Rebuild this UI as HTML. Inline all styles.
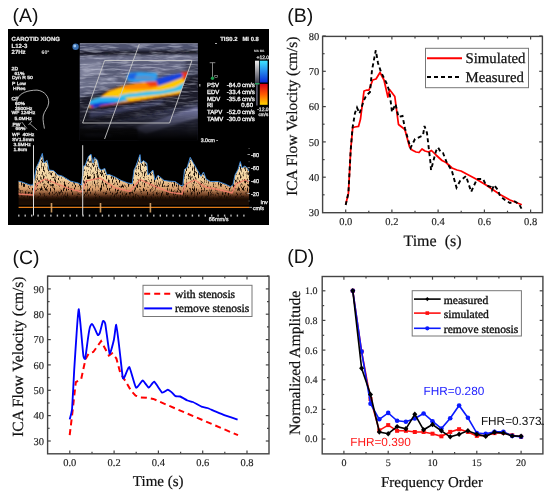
<!DOCTYPE html>
<html><head><meta charset="utf-8"><style>
html,body{margin:0;padding:0;background:#fff;width:550px;height:495px;overflow:hidden}
svg{display:block;will-change:transform;text-rendering:geometricPrecision}
</style></head><body>
<svg width="550" height="495" viewBox="0 0 550 495">
<rect width="550" height="495" fill="#fff"/>
<defs><linearGradient id="specg" gradientUnits="userSpaceOnUse" x1="0" y1="150" x2="0" y2="206"><stop offset="0" stop-color="#faeac6"/><stop offset="0.5" stop-color="#f4d4a0"/><stop offset="0.7" stop-color="#d89c6a"/><stop offset="0.8" stop-color="#8a5030" stop-opacity="0.75"/><stop offset="0.87" stop-color="#3a1a08" stop-opacity="0.25"/><stop offset="0.93" stop-color="#000" stop-opacity="0"/></linearGradient><linearGradient id="bluebar" x1="0" y1="0" x2="0" y2="1"><stop offset="0" stop-color="#3fe6ff"/><stop offset="1" stop-color="#0a2ad8"/></linearGradient><linearGradient id="redbar" x1="0" y1="0" x2="0" y2="1"><stop offset="0" stop-color="#d80018"/><stop offset="0.5" stop-color="#ff5a00"/><stop offset="1" stop-color="#ffd400"/></linearGradient><linearGradient id="graybar" x1="0" y1="0" x2="0" y2="1"><stop offset="0" stop-color="#f0f0f0"/><stop offset="1" stop-color="#303040"/></linearGradient><linearGradient id="bmodefade" x1="0" y1="0" x2="0" y2="1"><stop offset="0" stop-color="#000" stop-opacity="0"/><stop offset="0.7" stop-color="#000" stop-opacity="0"/><stop offset="0.86" stop-color="#000" stop-opacity="0.55"/><stop offset="1" stop-color="#000" stop-opacity="1"/></linearGradient><filter id="blur1" x="-10%" y="-10%" width="120%" height="120%"><feGaussianBlur stdDeviation="1.2"/></filter><filter id="blur07" x="-10%" y="-10%" width="120%" height="120%"><feGaussianBlur stdDeviation="0.95"/></filter><filter id="blur05" x="-10%" y="-10%" width="120%" height="120%"><feGaussianBlur stdDeviation="0.5"/></filter><filter id="blur2" x="-20%" y="-20%" width="140%" height="140%"><feGaussianBlur stdDeviation="2"/></filter><filter id="speck" x="0" y="0" width="100%" height="100%"><feTurbulence type="fractalNoise" baseFrequency="1.3 0.25" numOctaves="3" seed="11" result="n"/><feColorMatrix in="n" type="matrix" values="0 0 0 0 0  0 0 0 0 0  0 0 0 0 0  5 0 0 0 -1.45" result="m"/><feComposite in="SourceGraphic" in2="m" operator="in"/></filter><filter id="bmtex" x="0" y="0" width="100%" height="100%"><feTurbulence type="fractalNoise" baseFrequency="0.06 0.45" numOctaves="3" seed="5"/><feColorMatrix type="matrix" values="0 0 0 0 0.8  0 0 0 0 0.82  0 0 0 0 0.95  3.0 0 0 0 -1.3"/></filter><linearGradient id="bmaskg" x1="0" y1="0" x2="0" y2="1"><stop offset="0" stop-color="#fff"/><stop offset="0.5" stop-color="#fff"/><stop offset="0.68" stop-color="#888"/><stop offset="0.85" stop-color="#444"/><stop offset="1" stop-color="#000"/></linearGradient><mask id="bmask"><rect x="79.7" y="43.3" width="118.2" height="97" fill="url(#bmaskg)"/></mask><clipPath id="bclip"><rect x="79.7" y="43.3" width="118.2" height="97"/></clipPath><clipPath id="pclip"><polygon points="104.6,60.5 192,60.5 169.6,123 82.6,123"/></clipPath></defs>
<rect x="8" y="29" width="261" height="196" fill="#000"/>
<g clip-path="url(#bclip)">
<rect x="79.7" y="43.3" width="118.2" height="97" fill="#30324a"/>
<g filter="url(#blur1)">
<rect x="78" y="43" width="122" height="8" fill="#505370"/>
<polygon points="78,50.5 200,49.5 200,56 78,57" fill="#1a1c2c"/>
<polygon points="78,56 200,54.5 200,61 78,62.5" fill="#6a6d88"/>
<polygon points="78,62 200,60 200,76 160,80 120,86 78,98" fill="#585b76"/>
<polygon points="80,63 100,62 104,74 80,78" fill="#80839c"/>
<polygon points="80,80 116,76 118,84 80,90" fill="#6c6f8a"/>
<polygon points="120,64 180,62 182,70 120,72" fill="#606380"/>
<polygon points="186,60 200,60 200,100 184,100" fill="#3c3f56"/>
<polygon points="78,98 120,90 200,74 200,102 150,114 78,128" fill="#1a1c2c"/>
<polygon points="90,112 130,106 165,100 160,104 120,112 90,118" fill="#3c3f60"/>
<polygon points="134,128 198,106 200,117 146,134" fill="#6a6d94"/>
<rect x="78" y="128" width="60" height="16" fill="#12131c"/>
<ellipse cx="98" cy="136" rx="14" ry="2" fill="#34364c"/>
<ellipse cx="170" cy="134" rx="10" ry="2" fill="#34364c"/>
<ellipse cx="192" cy="131" rx="5" ry="6" fill="#3a3c55"/>
</g>
<rect x="79.7" y="43.3" width="118.2" height="97" fill="#fff" filter="url(#bmtex)" opacity="0.42" mask="url(#bmask)"/>
<rect x="79.7" y="43.3" width="118.2" height="97" fill="url(#bmodefade)"/>
<line x1="79.7" y1="43.6" x2="198" y2="43.6" stroke="#9a9cae" stroke-width="0.8"/>
</g>
<g clip-path="url(#pclip)" filter="url(#blur07)">
<polygon points="88,101 100,97 102,95.5 108.7,90.9 122.4,86.4 136,83.3 149,81.3 155,79.2 181,73 195,71 195,95 180,93.5 136,100.6 113.3,103.6 100,106 91,108.2 88,107" fill="#ffc800"/>
<polygon points="88,101 100,97 113,96.8 125,97.8 128,100.4 113.3,102.8 100,105 90,106.5" fill="#26aef2"/>
<polygon points="89,104.5 100,102.6 113.3,102.2 121,102.4 113.3,104 100,106.3 91,108.4" fill="#1436d2"/>
<polyline points="102,95.8 108.7,91.2 122.4,86.7 130,85" fill="none" stroke="#ff6a10" stroke-width="1"/>
<polygon points="124,86 136,83.3 150,82.6 159,86.5 150,89 136,89.5 124,89.5" fill="#ff8800"/>
<polygon points="145,82.2 155,79.2 158.4,86 150,86.5" fill="#f23c10"/>
<polygon points="120,95.2 128.7,93.6 136,93 146.2,91.5 161.5,90.4 174.7,87.4 182.8,83.3 192,79.5 192,88 175,91.8 161.5,94.3 146,95.8 136,96.8 120,98.3" fill="#38c4f2"/>
<polygon points="127,76 130,72.6 140,72 156.4,73.1 157.5,77 156,81.3 136,82.3 128,81" fill="#2aa0f2"/>
<polygon points="127.5,75.5 131,73.2 137,73 135,79 129,79.5" fill="#1e64e2"/>
<polygon points="134,76.5 146,75.8 157,77.5 150,79.2 136,79.2" fill="#7e88aa" opacity="0.65"/>
<polygon points="155.3,79.2 165,76.5 180.8,73.1 184,73.6 181.8,77.7 168.6,82.8 158.4,86" fill="#1442e0"/>
<polygon points="180.8,72.3 195,71 195,80 182,79.4 183.5,76" fill="#ea3018"/>
<polyline points="100,106.4 136,101 180,93.9" fill="none" stroke="#ff5a10" stroke-width="1"/>
<circle cx="91.5" cy="106.8" r="1.5" fill="#d82020"/>
</g>
<polygon points="104.6,60.5 192,60.5 169.6,123 82.6,123" fill="none" stroke="#c8c8c8" stroke-width="0.9"/>
<line x1="139.3" y1="44" x2="104.6" y2="139" stroke="#c8c8c8" stroke-width="0.9"/>
<circle cx="75.6" cy="46.7" r="3.2" fill="#3b6fb0"/><circle cx="74.8" cy="46" r="1.4" fill="#9ec6ee"/>
<text x="11.6" y="40.7" font-family='"Liberation Sans", sans-serif' font-size="6.0" font-weight="bold" fill="#ececec" stroke="#ececec" stroke-width="0.2" text-anchor="start" xml:space="preserve">CAROTID XIONG</text>
<text x="11.6" y="47.5" font-family='"Liberation Sans", sans-serif' font-size="6.0" font-weight="bold" fill="#ececec" stroke="#ececec" stroke-width="0.2" text-anchor="start" xml:space="preserve">L12-3</text>
<text x="11.6" y="53.7" font-family='"Liberation Sans", sans-serif' font-size="6.0" font-weight="bold" fill="#ececec" stroke="#ececec" stroke-width="0.2" text-anchor="start" xml:space="preserve">27Hz</text>
<text x="41.5" y="53.7" font-family='"Liberation Sans", sans-serif' font-size="5.2" font-weight="bold" fill="#e6e6e6" text-anchor="start" xml:space="preserve">60°</text>
<text transform="translate(11.6,69.5) scale(1.14,1)" font-family='"Liberation Sans", sans-serif' font-size="4.4" font-weight="normal" fill="#e8e8e8" stroke="#e8e8e8" stroke-width="0.3" text-anchor="start" xml:space="preserve">2D</text>
<text transform="translate(14.5,74.5) scale(1.14,1)" font-family='"Liberation Sans", sans-serif' font-size="4.4" font-weight="normal" fill="#e8e8e8" stroke="#e8e8e8" stroke-width="0.3" text-anchor="start" xml:space="preserve">61%</text>
<text transform="translate(12,79.3) scale(1.14,1)" font-family='"Liberation Sans", sans-serif' font-size="4.4" font-weight="normal" fill="#e8e8e8" stroke="#e8e8e8" stroke-width="0.3" text-anchor="start" xml:space="preserve">Dyn R 50</text>
<text transform="translate(12,85) scale(1.14,1)" font-family='"Liberation Sans", sans-serif' font-size="4.4" font-weight="normal" fill="#e8e8e8" stroke="#e8e8e8" stroke-width="0.3" text-anchor="start" xml:space="preserve">P Low</text>
<text transform="translate(13.1,89.6) scale(1.14,1)" font-family='"Liberation Sans", sans-serif' font-size="4.4" font-weight="normal" fill="#e8e8e8" stroke="#e8e8e8" stroke-width="0.3" text-anchor="start" xml:space="preserve">HRes</text>
<text transform="translate(11.6,99.5) scale(1.14,1)" font-family='"Liberation Sans", sans-serif' font-size="4.4" font-weight="normal" fill="#e8e8e8" stroke="#e8e8e8" stroke-width="0.3" text-anchor="start" xml:space="preserve">CF</text>
<text transform="translate(15,104.6) scale(1.14,1)" font-family='"Liberation Sans", sans-serif' font-size="4.4" font-weight="normal" fill="#e8e8e8" stroke="#e8e8e8" stroke-width="0.3" text-anchor="start" xml:space="preserve">60%</text>
<text transform="translate(15,109.7) scale(1.14,1)" font-family='"Liberation Sans", sans-serif' font-size="4.4" font-weight="normal" fill="#e8e8e8" stroke="#e8e8e8" stroke-width="0.3" text-anchor="start" xml:space="preserve">2500Hz</text>
<text transform="translate(11.6,114.2) scale(1.14,1)" font-family='"Liberation Sans", sans-serif' font-size="4.4" font-weight="normal" fill="#e8e8e8" stroke="#e8e8e8" stroke-width="0.3" text-anchor="start" xml:space="preserve">WF 124Hz</text>
<text transform="translate(14.5,119.9) scale(1.14,1)" font-family='"Liberation Sans", sans-serif' font-size="4.4" font-weight="normal" fill="#e8e8e8" stroke="#e8e8e8" stroke-width="0.3" text-anchor="start" xml:space="preserve">5.0MHz</text>
<text transform="translate(12.4,126.2) scale(1.14,1)" font-family='"Liberation Sans", sans-serif' font-size="4.4" font-weight="normal" fill="#e8e8e8" stroke="#e8e8e8" stroke-width="0.3" text-anchor="start" xml:space="preserve">PW</text>
<text transform="translate(15.5,130.2) scale(1.14,1)" font-family='"Liberation Sans", sans-serif' font-size="4.4" font-weight="normal" fill="#e8e8e8" stroke="#e8e8e8" stroke-width="0.3" text-anchor="start" xml:space="preserve">66%</text>
<text transform="translate(12,136) scale(1.14,1)" font-family='"Liberation Sans", sans-serif' font-size="4.4" font-weight="normal" fill="#e8e8e8" stroke="#e8e8e8" stroke-width="0.3" text-anchor="start" xml:space="preserve">WF  40Hz</text>
<text transform="translate(12,141.1) scale(1.14,1)" font-family='"Liberation Sans", sans-serif' font-size="4.4" font-weight="normal" fill="#e8e8e8" stroke="#e8e8e8" stroke-width="0.3" text-anchor="start" xml:space="preserve">SV1.5mm</text>
<text transform="translate(13.5,146.2) scale(1.14,1)" font-family='"Liberation Sans", sans-serif' font-size="4.4" font-weight="normal" fill="#e8e8e8" stroke="#e8e8e8" stroke-width="0.3" text-anchor="start" xml:space="preserve">3.5MHz</text>
<text transform="translate(13.5,151.3) scale(1.14,1)" font-family='"Liberation Sans", sans-serif' font-size="4.4" font-weight="normal" fill="#e8e8e8" stroke="#e8e8e8" stroke-width="0.3" text-anchor="start" xml:space="preserve">1.8cm</text>
<line x1="11.6" y1="70.3" x2="18" y2="70.3" stroke="#ccc" stroke-width="0.5"/>
<line x1="11.6" y1="100.3" x2="17.5" y2="100.3" stroke="#ccc" stroke-width="0.5"/>
<line x1="11.6" y1="126.3" x2="19" y2="126.3" stroke="#ccc" stroke-width="0.5"/>
<path d="M17.5,98.8 C20,93 27,90.3 37,90.1 C45,91 49,97 48.7,103 C48.3,108 44,111 43.2,116 C42.6,121 44,125 44.4,128.6" fill="none" stroke="#d8d8d8" stroke-width="0.8"/>
<path d="M17.5,98.8 C16,102 16.5,106 17,110 M21.8,122 L26.9,128.6 M29.8,123.5 L37.1,130.1 M28.5,125 L32,121" fill="none" stroke="#d8d8d8" stroke-width="0.7"/>
<text x="220.2" y="40.6" font-family='"Liberation Sans", sans-serif' font-size="5.9" font-weight="bold" fill="#ececec" stroke="#ececec" stroke-width="0.2" text-anchor="start" xml:space="preserve">TIS0.2   MI 0.8</text>
<rect x="215" y="43" width="2" height="0.8" fill="#ddd"/>
<text x="254" y="52.3" font-family='"Liberation Sans", sans-serif' font-size="3.2" font-weight="bold" fill="#e6e6e6" text-anchor="start" xml:space="preserve">MS MS</text>
<text x="256.5" y="58.8" font-family='"Liberation Sans", sans-serif' font-size="5.0" font-weight="normal" fill="#e6e6e6" stroke="#e6e6e6" stroke-width="0.25" text-anchor="start" xml:space="preserve">+12.0</text>
<rect x="255" y="60.7" width="4" height="23.5" fill="url(#graybar)"/>
<rect x="256.2" y="84" width="1.4" height="21.5" fill="#6a6a80"/>
<rect x="259.8" y="60.7" width="7.8" height="21.8" fill="url(#bluebar)"/>
<rect x="259.8" y="83.9" width="7.8" height="20.9" fill="url(#redbar)"/>
<rect x="255" y="83" width="4.5" height="1.5" fill="#2aa060"/>
<text x="257.2" y="110.6" font-family='"Liberation Sans", sans-serif' font-size="5.0" font-weight="normal" fill="#e6e6e6" stroke="#e6e6e6" stroke-width="0.25" text-anchor="start" xml:space="preserve">-12.0</text>
<text x="258.5" y="116.2" font-family='"Liberation Sans", sans-serif' font-size="4.6" font-weight="normal" fill="#e6e6e6" stroke="#e6e6e6" stroke-width="0.25" text-anchor="start" xml:space="preserve">cm/s</text>
<line x1="212.5" y1="62.7" x2="212.5" y2="77.7" stroke="#bbb" stroke-width="0.7"/>
<line x1="209.7" y1="62.7" x2="215.3" y2="62.7" stroke="#bbb" stroke-width="0.7"/>
<circle cx="212.5" cy="78.3" r="1.7" fill="#20a050"/>
<rect x="214.8" y="75.3" width="2.5" height="2" fill="none" stroke="#ccc" stroke-width="0.5"/>
<rect x="199" y="84" width="1.5" height="2.5" fill="#888"/>
<text x="207" y="86.6" font-family='"Liberation Sans", sans-serif' font-size="6.0" font-weight="normal" fill="#f0f0f0" stroke="#f0f0f0" stroke-width="0.35" text-anchor="start" xml:space="preserve">PSV</text>
<text x="240.5" y="86.6" font-family='"Liberation Sans", sans-serif' font-size="6.0" font-weight="normal" fill="#f0f0f0" stroke="#f0f0f0" stroke-width="0.35" text-anchor="end" xml:space="preserve">-84.0</text>
<text x="242.1" y="86.6" font-family='"Liberation Sans", sans-serif' font-size="6.0" font-weight="normal" fill="#f0f0f0" stroke="#f0f0f0" stroke-width="0.35" text-anchor="start" xml:space="preserve">cm/s</text>
<text x="207" y="93.55" font-family='"Liberation Sans", sans-serif' font-size="6.0" font-weight="normal" fill="#f0f0f0" stroke="#f0f0f0" stroke-width="0.35" text-anchor="start" xml:space="preserve">EDV</text>
<text x="240.5" y="93.55" font-family='"Liberation Sans", sans-serif' font-size="6.0" font-weight="normal" fill="#f0f0f0" stroke="#f0f0f0" stroke-width="0.35" text-anchor="end" xml:space="preserve">-33.4</text>
<text x="242.1" y="93.55" font-family='"Liberation Sans", sans-serif' font-size="6.0" font-weight="normal" fill="#f0f0f0" stroke="#f0f0f0" stroke-width="0.35" text-anchor="start" xml:space="preserve">cm/s</text>
<text x="207" y="100.5" font-family='"Liberation Sans", sans-serif' font-size="6.0" font-weight="normal" fill="#f0f0f0" stroke="#f0f0f0" stroke-width="0.35" text-anchor="start" xml:space="preserve">MDV</text>
<text x="240.5" y="100.5" font-family='"Liberation Sans", sans-serif' font-size="6.0" font-weight="normal" fill="#f0f0f0" stroke="#f0f0f0" stroke-width="0.35" text-anchor="end" xml:space="preserve">-35.6</text>
<text x="242.1" y="100.5" font-family='"Liberation Sans", sans-serif' font-size="6.0" font-weight="normal" fill="#f0f0f0" stroke="#f0f0f0" stroke-width="0.35" text-anchor="start" xml:space="preserve">cm/s</text>
<text x="207" y="107.44999999999999" font-family='"Liberation Sans", sans-serif' font-size="6.0" font-weight="normal" fill="#f0f0f0" stroke="#f0f0f0" stroke-width="0.35" text-anchor="start" xml:space="preserve">RI</text>
<text x="253" y="107.44999999999999" font-family='"Liberation Sans", sans-serif' font-size="6.0" font-weight="normal" fill="#f0f0f0" stroke="#f0f0f0" stroke-width="0.35" text-anchor="end" xml:space="preserve">0.60</text>
<text x="207" y="114.39999999999999" font-family='"Liberation Sans", sans-serif' font-size="6.0" font-weight="normal" fill="#f0f0f0" stroke="#f0f0f0" stroke-width="0.35" text-anchor="start" xml:space="preserve">TAPV</text>
<text x="240.5" y="114.39999999999999" font-family='"Liberation Sans", sans-serif' font-size="6.0" font-weight="normal" fill="#f0f0f0" stroke="#f0f0f0" stroke-width="0.35" text-anchor="end" xml:space="preserve">-52.0</text>
<text x="242.1" y="114.39999999999999" font-family='"Liberation Sans", sans-serif' font-size="6.0" font-weight="normal" fill="#f0f0f0" stroke="#f0f0f0" stroke-width="0.35" text-anchor="start" xml:space="preserve">cm/s</text>
<text x="207" y="121.35" font-family='"Liberation Sans", sans-serif' font-size="6.0" font-weight="normal" fill="#f0f0f0" stroke="#f0f0f0" stroke-width="0.35" text-anchor="start" xml:space="preserve">TAMV</text>
<text x="240.5" y="121.35" font-family='"Liberation Sans", sans-serif' font-size="6.0" font-weight="normal" fill="#f0f0f0" stroke="#f0f0f0" stroke-width="0.35" text-anchor="end" xml:space="preserve">-30.0</text>
<text x="242.1" y="121.35" font-family='"Liberation Sans", sans-serif' font-size="6.0" font-weight="normal" fill="#f0f0f0" stroke="#f0f0f0" stroke-width="0.35" text-anchor="start" xml:space="preserve">cm/s</text>
<text x="200.7" y="141.5" font-family='"Liberation Sans", sans-serif' font-size="5.2" font-weight="normal" fill="#e6e6e6" stroke="#e6e6e6" stroke-width="0.3" text-anchor="start" xml:space="preserve">3.0cm -</text>
<polygon points="18.6,181.2 22.0,182.0 26.0,183.5 30.0,185.0 33.0,185.0 36.3,167.5 39.0,162.0 42.3,153.4 44.0,163.0 47.1,160.3 49.0,170.0 53.5,170.6 58.0,175.0 62.1,176.0 70.7,181.2 78.0,183.0 81.5,185.0 83.5,166.0 85.0,165.8 88.5,156.3 91.0,154.1 93.0,163.0 94.5,157.2 97.5,160.3 99.0,168.0 101.3,170.0 104.8,168.4 107.0,175.0 109.0,174.4 115.0,177.0 121.1,180.4 128.0,183.0 132.2,183.8 134.0,170.0 135.7,166.6 140.0,154.6 141.0,163.0 143.4,160.6 146.9,163.2 148.0,175.0 152.9,170.0 155.0,180.0 158.0,175.2 164.0,180.4 169.2,181.2 175.0,181.5 180.2,185.2 182.8,185.8 184.5,169.4 187.1,167.6 190.2,157.3 193.1,162.5 197.5,170.2 200.9,176.3 203.5,172.0 206.1,178.9 210.4,181.5 218.2,181.5 225.1,184.0 230.3,186.6 232.9,184.9 235.0,175.0 238.0,169.4 240.3,161.6 242.0,168.0 245.0,165.9 247.5,168.5 249.0,171.1 249.0,205.0 18.6,205.0" fill="#1e0e04" opacity="0.9"/>
<polygon points="18.6,181.2 22.0,182.0 26.0,183.5 30.0,185.0 33.0,185.0 36.3,167.5 39.0,162.0 42.3,153.4 44.0,163.0 47.1,160.3 49.0,170.0 53.5,170.6 58.0,175.0 62.1,176.0 70.7,181.2 78.0,183.0 81.5,185.0 83.5,166.0 85.0,165.8 88.5,156.3 91.0,154.1 93.0,163.0 94.5,157.2 97.5,160.3 99.0,168.0 101.3,170.0 104.8,168.4 107.0,175.0 109.0,174.4 115.0,177.0 121.1,180.4 128.0,183.0 132.2,183.8 134.0,170.0 135.7,166.6 140.0,154.6 141.0,163.0 143.4,160.6 146.9,163.2 148.0,175.0 152.9,170.0 155.0,180.0 158.0,175.2 164.0,180.4 169.2,181.2 175.0,181.5 180.2,185.2 182.8,185.8 184.5,169.4 187.1,167.6 190.2,157.3 193.1,162.5 197.5,170.2 200.9,176.3 203.5,172.0 206.1,178.9 210.4,181.5 218.2,181.5 225.1,184.0 230.3,186.6 232.9,184.9 235.0,175.0 238.0,169.4 240.3,161.6 242.0,168.0 245.0,165.9 247.5,168.5 249.0,171.1 249.0,205.0 18.6,205.0" fill="url(#specg)" filter="url(#speck)"/>
<polyline points="18.6,181.2 22.0,182.0 26.0,183.5 30.0,185.0 33.0,185.0 36.3,167.5 39.0,162.0 42.3,153.4 44.0,163.0 47.1,160.3 49.0,170.0 53.5,170.6 58.0,175.0 62.1,176.0 70.7,181.2 78.0,183.0 81.5,185.0 83.5,166.0 85.0,165.8 88.5,156.3 91.0,154.1 93.0,163.0 94.5,157.2 97.5,160.3 99.0,168.0 101.3,170.0 104.8,168.4 107.0,175.0 109.0,174.4 115.0,177.0 121.1,180.4 128.0,183.0 132.2,183.8 134.0,170.0 135.7,166.6 140.0,154.6 141.0,163.0 143.4,160.6 146.9,163.2 148.0,175.0 152.9,170.0 155.0,180.0 158.0,175.2 164.0,180.4 169.2,181.2 175.0,181.5 180.2,185.2 182.8,185.8 184.5,169.4 187.1,167.6 190.2,157.3 193.1,162.5 197.5,170.2 200.9,176.3 203.5,172.0 206.1,178.9 210.4,181.5 218.2,181.5 225.1,184.0 230.3,186.6 232.9,184.9 235.0,175.0 238.0,169.4 240.3,161.6 242.0,168.0 245.0,165.9 247.5,168.5 249.0,171.1" fill="none" stroke="#3a8ae0" stroke-width="0.9" stroke-linejoin="round"/>
<polyline points="18.6,194.0 33.0,195.0 37.0,184.0 45.0,179.0 55.0,183.0 70.0,189.0 82.0,192.0 86.0,181.0 100.0,178.0 115.0,188.0 130.0,191.5 136.0,184.0 140.0,179.5 155.0,186.4 170.0,192.4 182.0,194.0 186.0,184.0 195.0,180.0 205.0,187.0 220.0,190.0 232.0,193.0 236.0,184.0 245.0,180.0 249.0,182.0" fill="none" stroke="#f4806c" stroke-width="1.3" opacity="0.9"/>
<line x1="18.6" y1="207.4" x2="249.3" y2="207.4" stroke="#e07a18" stroke-width="1.3"/>
<line x1="249.3" y1="207.4" x2="252" y2="207.4" stroke="#ccc" stroke-width="0.8"/>
<rect x="50.7" y="203" width="1.6" height="9.5" fill="#e8b070" opacity="0.85"/>
<rect x="99.7" y="203" width="1.6" height="9.5" fill="#e8b070" opacity="0.85"/>
<rect x="149.6" y="203" width="1.6" height="9.5" fill="#e8b070" opacity="0.85"/>
<rect x="33" y="145.2" width="1" height="70.3" fill="#dedede"/>
<rect x="82.2" y="145.2" width="1" height="70.3" fill="#dedede"/>
<rect x="18.1" y="214.6" width="1.4" height="2" fill="#b8b8b8"/>
<rect x="24.5" y="214.6" width="1.4" height="2" fill="#b8b8b8"/>
<rect x="31.0" y="214.6" width="1.4" height="2" fill="#b8b8b8"/>
<rect x="37.4" y="214.6" width="1.4" height="2" fill="#b8b8b8"/>
<rect x="43.8" y="214.6" width="1.4" height="2" fill="#b8b8b8"/>
<rect x="50.2" y="214.6" width="1.4" height="2" fill="#b8b8b8"/>
<rect x="56.7" y="214.6" width="1.4" height="2" fill="#b8b8b8"/>
<rect x="63.1" y="214.6" width="1.4" height="2" fill="#b8b8b8"/>
<rect x="69.5" y="214.6" width="1.4" height="2" fill="#b8b8b8"/>
<rect x="76.0" y="214.6" width="1.4" height="2" fill="#b8b8b8"/>
<rect x="82.4" y="214.6" width="1.4" height="2" fill="#b8b8b8"/>
<rect x="88.8" y="214.6" width="1.4" height="2" fill="#b8b8b8"/>
<rect x="95.3" y="214.6" width="1.4" height="2" fill="#b8b8b8"/>
<rect x="101.7" y="214.6" width="1.4" height="2" fill="#b8b8b8"/>
<rect x="108.1" y="214.6" width="1.4" height="2" fill="#b8b8b8"/>
<rect x="114.6" y="214.6" width="1.4" height="2" fill="#b8b8b8"/>
<rect x="121.0" y="214.6" width="1.4" height="2" fill="#b8b8b8"/>
<rect x="127.4" y="214.6" width="1.4" height="2" fill="#b8b8b8"/>
<rect x="133.8" y="214.6" width="1.4" height="2" fill="#b8b8b8"/>
<rect x="140.3" y="214.6" width="1.4" height="2" fill="#b8b8b8"/>
<rect x="146.7" y="214.6" width="1.4" height="2" fill="#b8b8b8"/>
<rect x="153.1" y="214.6" width="1.4" height="2" fill="#b8b8b8"/>
<rect x="159.6" y="214.6" width="1.4" height="2" fill="#b8b8b8"/>
<rect x="166.0" y="214.6" width="1.4" height="2" fill="#b8b8b8"/>
<rect x="172.4" y="214.6" width="1.4" height="2" fill="#b8b8b8"/>
<rect x="178.9" y="214.6" width="1.4" height="2" fill="#b8b8b8"/>
<rect x="185.3" y="214.6" width="1.4" height="2" fill="#b8b8b8"/>
<rect x="191.7" y="214.6" width="1.4" height="2" fill="#b8b8b8"/>
<rect x="198.1" y="214.6" width="1.4" height="2" fill="#b8b8b8"/>
<rect x="204.6" y="214.6" width="1.4" height="2" fill="#b8b8b8"/>
<rect x="211.0" y="214.6" width="1.4" height="2" fill="#b8b8b8"/>
<rect x="217.4" y="214.6" width="1.4" height="2" fill="#b8b8b8"/>
<rect x="223.9" y="214.6" width="1.4" height="2" fill="#b8b8b8"/>
<rect x="230.3" y="214.6" width="1.4" height="2" fill="#b8b8b8"/>
<rect x="236.7" y="214.6" width="1.4" height="2" fill="#b8b8b8"/>
<rect x="243.2" y="214.6" width="1.4" height="2" fill="#b8b8b8"/>
<text x="208.7" y="221.2" font-family='"Liberation Sans", sans-serif' font-size="5.6" font-weight="normal" fill="#e0e0e0" stroke="#e0e0e0" stroke-width="0.3" text-anchor="start" xml:space="preserve">66mm/s</text>
<rect x="247.5" y="154.2" width="2.5" height="0.8" fill="#bbb"/>
<text x="251" y="156.79999999999998" font-family='"Liberation Sans", sans-serif' font-size="5.6" font-weight="normal" fill="#e8e8e8" stroke="#e8e8e8" stroke-width="0.3" text-anchor="start" xml:space="preserve">-80</text>
<rect x="247.5" y="167.29999999999998" width="2.5" height="0.8" fill="#bbb"/>
<text x="251" y="169.89999999999998" font-family='"Liberation Sans", sans-serif' font-size="5.6" font-weight="normal" fill="#e8e8e8" stroke="#e8e8e8" stroke-width="0.3" text-anchor="start" xml:space="preserve">-60</text>
<rect x="247.5" y="180.29999999999998" width="2.5" height="0.8" fill="#bbb"/>
<text x="251" y="182.89999999999998" font-family='"Liberation Sans", sans-serif' font-size="5.6" font-weight="normal" fill="#e8e8e8" stroke="#e8e8e8" stroke-width="0.3" text-anchor="start" xml:space="preserve">-40</text>
<rect x="247.5" y="193.2" width="2.5" height="0.8" fill="#bbb"/>
<text x="251" y="195.79999999999998" font-family='"Liberation Sans", sans-serif' font-size="5.6" font-weight="normal" fill="#e8e8e8" stroke="#e8e8e8" stroke-width="0.3" text-anchor="start" xml:space="preserve">-20</text>
<rect x="248.5" y="148.29999999999998" width="1.2" height="0.6" fill="#999"/>
<rect x="248.5" y="161.5" width="1.2" height="0.6" fill="#999"/>
<rect x="248.5" y="174.7" width="1.2" height="0.6" fill="#999"/>
<rect x="248.5" y="187.7" width="1.2" height="0.6" fill="#999"/>
<rect x="248.5" y="200.7" width="1.2" height="0.6" fill="#999"/>
<text x="260.5" y="204.2" font-family='"Liberation Sans", sans-serif' font-size="5.4" font-weight="normal" fill="#e8e8e8" stroke="#e8e8e8" stroke-width="0.3" text-anchor="start" xml:space="preserve">Inv</text>
<text x="252.7" y="209.5" font-family='"Liberation Sans", sans-serif' font-size="5.4" font-weight="normal" fill="#e8e8e8" stroke="#e8e8e8" stroke-width="0.3" text-anchor="start" xml:space="preserve">cm/s</text>
<text x="12.5" y="21.6" font-family='"Liberation Sans", sans-serif' font-size="19.5" fill="#111">(A)</text>
<text x="287.2" y="21.6" font-family='"Liberation Sans", sans-serif' font-size="19.5" fill="#111">(B)</text>
<text x="12.5" y="263.5" font-family='"Liberation Sans", sans-serif' font-size="19.5" fill="#111">(C)</text>
<text x="287.2" y="263.2" font-family='"Liberation Sans", sans-serif' font-size="19.5" fill="#111">(D)</text>
<rect x="322.6" y="36.4" width="219.79999999999995" height="176.29999999999998" fill="none" stroke="#444" stroke-width="1.4"/>
<line x1="345.7" y1="212.7" x2="345.7" y2="209.5" stroke="#444" stroke-width="1.2"/>
<line x1="345.7" y1="36.4" x2="345.7" y2="39.6" stroke="#444" stroke-width="1.2"/>
<line x1="368.8" y1="212.7" x2="368.8" y2="210.7" stroke="#444" stroke-width="1.2"/>
<line x1="368.8" y1="36.4" x2="368.8" y2="38.4" stroke="#444" stroke-width="1.2"/>
<line x1="391.9" y1="212.7" x2="391.9" y2="209.5" stroke="#444" stroke-width="1.2"/>
<line x1="391.9" y1="36.4" x2="391.9" y2="39.6" stroke="#444" stroke-width="1.2"/>
<line x1="415.0" y1="212.7" x2="415.0" y2="210.7" stroke="#444" stroke-width="1.2"/>
<line x1="415.0" y1="36.4" x2="415.0" y2="38.4" stroke="#444" stroke-width="1.2"/>
<line x1="438.1" y1="212.7" x2="438.1" y2="209.5" stroke="#444" stroke-width="1.2"/>
<line x1="438.1" y1="36.4" x2="438.1" y2="39.6" stroke="#444" stroke-width="1.2"/>
<line x1="461.2" y1="212.7" x2="461.2" y2="210.7" stroke="#444" stroke-width="1.2"/>
<line x1="461.2" y1="36.4" x2="461.2" y2="38.4" stroke="#444" stroke-width="1.2"/>
<line x1="484.4" y1="212.7" x2="484.4" y2="209.5" stroke="#444" stroke-width="1.2"/>
<line x1="484.4" y1="36.4" x2="484.4" y2="39.6" stroke="#444" stroke-width="1.2"/>
<line x1="507.5" y1="212.7" x2="507.5" y2="210.7" stroke="#444" stroke-width="1.2"/>
<line x1="507.5" y1="36.4" x2="507.5" y2="38.4" stroke="#444" stroke-width="1.2"/>
<line x1="530.6" y1="212.7" x2="530.6" y2="209.5" stroke="#444" stroke-width="1.2"/>
<line x1="530.6" y1="36.4" x2="530.6" y2="39.6" stroke="#444" stroke-width="1.2"/>
<line x1="322.6" y1="194.8" x2="324.6" y2="194.8" stroke="#444" stroke-width="1.2"/>
<line x1="542.4" y1="194.8" x2="540.4" y2="194.8" stroke="#444" stroke-width="1.2"/>
<line x1="322.6" y1="177.2" x2="325.8" y2="177.2" stroke="#444" stroke-width="1.2"/>
<line x1="542.4" y1="177.2" x2="539.1999999999999" y2="177.2" stroke="#444" stroke-width="1.2"/>
<line x1="322.6" y1="159.6" x2="324.6" y2="159.6" stroke="#444" stroke-width="1.2"/>
<line x1="542.4" y1="159.6" x2="540.4" y2="159.6" stroke="#444" stroke-width="1.2"/>
<line x1="322.6" y1="141.9" x2="325.8" y2="141.9" stroke="#444" stroke-width="1.2"/>
<line x1="542.4" y1="141.9" x2="539.1999999999999" y2="141.9" stroke="#444" stroke-width="1.2"/>
<line x1="322.6" y1="124.2" x2="324.6" y2="124.2" stroke="#444" stroke-width="1.2"/>
<line x1="542.4" y1="124.2" x2="540.4" y2="124.2" stroke="#444" stroke-width="1.2"/>
<line x1="322.6" y1="106.6" x2="325.8" y2="106.6" stroke="#444" stroke-width="1.2"/>
<line x1="542.4" y1="106.6" x2="539.1999999999999" y2="106.6" stroke="#444" stroke-width="1.2"/>
<line x1="322.6" y1="89.0" x2="324.6" y2="89.0" stroke="#444" stroke-width="1.2"/>
<line x1="542.4" y1="89.0" x2="540.4" y2="89.0" stroke="#444" stroke-width="1.2"/>
<line x1="322.6" y1="71.3" x2="325.8" y2="71.3" stroke="#444" stroke-width="1.2"/>
<line x1="542.4" y1="71.3" x2="539.1999999999999" y2="71.3" stroke="#444" stroke-width="1.2"/>
<line x1="322.6" y1="53.7" x2="324.6" y2="53.7" stroke="#444" stroke-width="1.2"/>
<line x1="542.4" y1="53.7" x2="540.4" y2="53.7" stroke="#444" stroke-width="1.2"/>
<line x1="322.6" y1="36.0" x2="325.8" y2="36.0" stroke="#444" stroke-width="1.2"/>
<line x1="542.4" y1="36.0" x2="539.1999999999999" y2="36.0" stroke="#444" stroke-width="1.2"/>
<text x="345.7" y="225.0" font-family='"Liberation Serif", serif' font-size="10.5" fill="#222" stroke="#222" stroke-width="0.15" text-anchor="middle">0.0</text>
<text x="391.9" y="225.0" font-family='"Liberation Serif", serif' font-size="10.5" fill="#222" stroke="#222" stroke-width="0.15" text-anchor="middle">0.2</text>
<text x="438.1" y="225.0" font-family='"Liberation Serif", serif' font-size="10.5" fill="#222" stroke="#222" stroke-width="0.15" text-anchor="middle">0.4</text>
<text x="484.4" y="225.0" font-family='"Liberation Serif", serif' font-size="10.5" fill="#222" stroke="#222" stroke-width="0.15" text-anchor="middle">0.6</text>
<text x="530.6" y="225.0" font-family='"Liberation Serif", serif' font-size="10.5" fill="#222" stroke="#222" stroke-width="0.15" text-anchor="middle">0.8</text>
<text x="319.3" y="216.1" font-family='"Liberation Serif", serif' font-size="10.5" fill="#222" stroke="#222" stroke-width="0.15" text-anchor="end">30</text>
<text x="319.3" y="180.8" font-family='"Liberation Serif", serif' font-size="10.5" fill="#222" stroke="#222" stroke-width="0.15" text-anchor="end">40</text>
<text x="319.3" y="145.5" font-family='"Liberation Serif", serif' font-size="10.5" fill="#222" stroke="#222" stroke-width="0.15" text-anchor="end">50</text>
<text x="319.3" y="110.2" font-family='"Liberation Serif", serif' font-size="10.5" fill="#222" stroke="#222" stroke-width="0.15" text-anchor="end">60</text>
<text x="319.3" y="74.9" font-family='"Liberation Serif", serif' font-size="10.5" fill="#222" stroke="#222" stroke-width="0.15" text-anchor="end">70</text>
<text x="319.3" y="39.6" font-family='"Liberation Serif", serif' font-size="10.5" fill="#222" stroke="#222" stroke-width="0.15" text-anchor="end">80</text>
<text transform="translate(296.7,116.2) rotate(-90)" font-family='"Liberation Serif", serif' font-size="15.4" fill="#111" stroke="#111" stroke-width="0.2" text-anchor="middle">ICA Flow Velocity (cm/s)</text>
<text x="432.5" y="245.5" font-family='"Liberation Serif", serif' font-size="16" fill="#111" stroke="#111" stroke-width="0.2" text-anchor="middle" xml:space="preserve">Time  (s)</text>
<polyline points="345.7,204.4 348.4,193.5 350.7,150.0 352.7,127.6 355.0,127.0 358.5,126.4 360.5,119.0 364.0,91.0 367.0,90.0 369.0,90.0 372.7,80.0 376.0,79.0 380.0,72.5 384.0,80.0 387.9,97.0 389.7,89.7 394.8,96.5 398.5,124.5 403.0,128.0 405.0,130.0 409.5,146.7 412.0,150.0 416.0,152.0 419.0,152.5 422.0,149.0 425.0,151.0 428.5,152.0 431.5,150.5 436.0,155.0 442.0,160.5 446.0,162.5 452.0,168.0 457.0,170.0 461.0,171.0 476.0,179.0 486.0,185.0 500.0,194.5 510.0,200.0 521.8,204.8" fill="none" stroke="#ff0000" stroke-width="1.75" stroke-linejoin="round"/>
<polyline points="345.7,205.0 348.4,193.0 350.7,150.0 352.5,128.0 355.0,113.0 357.0,107.6 359.5,113.5 362.0,106.0 364.0,100.0 366.0,96.0 370.0,92.0 372.0,70.0 375.8,50.3 378.0,63.0 381.0,72.0 384.0,78.0 387.0,84.0 389.5,92.0 392.0,112.0 395.5,104.0 398.5,117.0 402.5,116.0 405.0,128.5 410.5,148.0 415.0,139.0 423.0,135.5 424.5,126.0 427.0,133.0 430.5,163.0 431.0,170.0 436.0,151.0 438.0,147.5 441.0,152.5 443.0,153.0 447.0,163.0 451.8,170.6 456.5,187.6 460.0,181.0 466.0,176.0 471.2,191.8 477.0,179.0 483.0,179.0 486.0,185.0 491.0,187.0 492.0,190.0 494.0,185.0 498.0,190.0 500.0,196.0 505.0,200.0 510.0,203.0 514.0,201.0 519.0,204.0 522.0,209.5" fill="none" stroke="#000" stroke-width="1.9" stroke-dasharray="4,3"/>
<rect x="425.5" y="48.3" width="103" height="39.4" fill="#fff" stroke="#777" stroke-width="1"/>
<line x1="427" y1="58.2" x2="462" y2="58.2" stroke="#ff0000" stroke-width="2"/>
<line x1="427" y1="77" x2="462" y2="77" stroke="#000" stroke-width="1.9" stroke-dasharray="4,3"/>
<text x="465.5" y="63.4" font-family='"Liberation Serif", serif' font-size="14.8" fill="#111" stroke="#111" stroke-width="0.25">Simulated</text>
<text x="465.5" y="82.3" font-family='"Liberation Serif", serif' font-size="14.8" fill="#111" stroke="#111" stroke-width="0.25">Measured</text>
<rect x="47.6" y="276.2" width="221.4" height="177.60000000000002" fill="none" stroke="#444" stroke-width="1.4"/>
<line x1="69.8" y1="453.8" x2="69.8" y2="450.6" stroke="#444" stroke-width="1.2"/>
<line x1="69.8" y1="276.2" x2="69.8" y2="279.4" stroke="#444" stroke-width="1.2"/>
<line x1="92.0" y1="453.8" x2="92.0" y2="451.8" stroke="#444" stroke-width="1.2"/>
<line x1="92.0" y1="276.2" x2="92.0" y2="278.2" stroke="#444" stroke-width="1.2"/>
<line x1="114.1" y1="453.8" x2="114.1" y2="450.6" stroke="#444" stroke-width="1.2"/>
<line x1="114.1" y1="276.2" x2="114.1" y2="279.4" stroke="#444" stroke-width="1.2"/>
<line x1="136.2" y1="453.8" x2="136.2" y2="451.8" stroke="#444" stroke-width="1.2"/>
<line x1="136.2" y1="276.2" x2="136.2" y2="278.2" stroke="#444" stroke-width="1.2"/>
<line x1="158.4" y1="453.8" x2="158.4" y2="450.6" stroke="#444" stroke-width="1.2"/>
<line x1="158.4" y1="276.2" x2="158.4" y2="279.4" stroke="#444" stroke-width="1.2"/>
<line x1="180.6" y1="453.8" x2="180.6" y2="451.8" stroke="#444" stroke-width="1.2"/>
<line x1="180.6" y1="276.2" x2="180.6" y2="278.2" stroke="#444" stroke-width="1.2"/>
<line x1="202.7" y1="453.8" x2="202.7" y2="450.6" stroke="#444" stroke-width="1.2"/>
<line x1="202.7" y1="276.2" x2="202.7" y2="279.4" stroke="#444" stroke-width="1.2"/>
<line x1="224.8" y1="453.8" x2="224.8" y2="451.8" stroke="#444" stroke-width="1.2"/>
<line x1="224.8" y1="276.2" x2="224.8" y2="278.2" stroke="#444" stroke-width="1.2"/>
<line x1="247.0" y1="453.8" x2="247.0" y2="450.6" stroke="#444" stroke-width="1.2"/>
<line x1="247.0" y1="276.2" x2="247.0" y2="279.4" stroke="#444" stroke-width="1.2"/>
<line x1="47.6" y1="441.0" x2="50.800000000000004" y2="441.0" stroke="#444" stroke-width="1.2"/>
<line x1="269" y1="441.0" x2="265.8" y2="441.0" stroke="#444" stroke-width="1.2"/>
<line x1="47.6" y1="428.3" x2="49.6" y2="428.3" stroke="#444" stroke-width="1.2"/>
<line x1="269" y1="428.3" x2="267.0" y2="428.3" stroke="#444" stroke-width="1.2"/>
<line x1="47.6" y1="415.6" x2="50.800000000000004" y2="415.6" stroke="#444" stroke-width="1.2"/>
<line x1="269" y1="415.6" x2="265.8" y2="415.6" stroke="#444" stroke-width="1.2"/>
<line x1="47.6" y1="403.0" x2="49.6" y2="403.0" stroke="#444" stroke-width="1.2"/>
<line x1="269" y1="403.0" x2="267.0" y2="403.0" stroke="#444" stroke-width="1.2"/>
<line x1="47.6" y1="390.3" x2="50.800000000000004" y2="390.3" stroke="#444" stroke-width="1.2"/>
<line x1="269" y1="390.3" x2="265.8" y2="390.3" stroke="#444" stroke-width="1.2"/>
<line x1="47.6" y1="377.6" x2="49.6" y2="377.6" stroke="#444" stroke-width="1.2"/>
<line x1="269" y1="377.6" x2="267.0" y2="377.6" stroke="#444" stroke-width="1.2"/>
<line x1="47.6" y1="364.9" x2="50.800000000000004" y2="364.9" stroke="#444" stroke-width="1.2"/>
<line x1="269" y1="364.9" x2="265.8" y2="364.9" stroke="#444" stroke-width="1.2"/>
<line x1="47.6" y1="352.3" x2="49.6" y2="352.3" stroke="#444" stroke-width="1.2"/>
<line x1="269" y1="352.3" x2="267.0" y2="352.3" stroke="#444" stroke-width="1.2"/>
<line x1="47.6" y1="339.6" x2="50.800000000000004" y2="339.6" stroke="#444" stroke-width="1.2"/>
<line x1="269" y1="339.6" x2="265.8" y2="339.6" stroke="#444" stroke-width="1.2"/>
<line x1="47.6" y1="326.9" x2="49.6" y2="326.9" stroke="#444" stroke-width="1.2"/>
<line x1="269" y1="326.9" x2="267.0" y2="326.9" stroke="#444" stroke-width="1.2"/>
<line x1="47.6" y1="314.2" x2="50.800000000000004" y2="314.2" stroke="#444" stroke-width="1.2"/>
<line x1="269" y1="314.2" x2="265.8" y2="314.2" stroke="#444" stroke-width="1.2"/>
<line x1="47.6" y1="301.6" x2="49.6" y2="301.6" stroke="#444" stroke-width="1.2"/>
<line x1="269" y1="301.6" x2="267.0" y2="301.6" stroke="#444" stroke-width="1.2"/>
<line x1="47.6" y1="288.9" x2="50.800000000000004" y2="288.9" stroke="#444" stroke-width="1.2"/>
<line x1="269" y1="288.9" x2="265.8" y2="288.9" stroke="#444" stroke-width="1.2"/>
<line x1="47.6" y1="276.2" x2="49.6" y2="276.2" stroke="#444" stroke-width="1.2"/>
<line x1="269" y1="276.2" x2="267.0" y2="276.2" stroke="#444" stroke-width="1.2"/>
<text x="69.8" y="465.7" font-family='"Liberation Serif", serif' font-size="10.5" fill="#222" stroke="#222" stroke-width="0.15" text-anchor="middle">0.0</text>
<text x="114.1" y="465.7" font-family='"Liberation Serif", serif' font-size="10.5" fill="#222" stroke="#222" stroke-width="0.15" text-anchor="middle">0.2</text>
<text x="158.4" y="465.7" font-family='"Liberation Serif", serif' font-size="10.5" fill="#222" stroke="#222" stroke-width="0.15" text-anchor="middle">0.4</text>
<text x="202.7" y="465.7" font-family='"Liberation Serif", serif' font-size="10.5" fill="#222" stroke="#222" stroke-width="0.15" text-anchor="middle">0.6</text>
<text x="247.0" y="465.7" font-family='"Liberation Serif", serif' font-size="10.5" fill="#222" stroke="#222" stroke-width="0.15" text-anchor="middle">0.8</text>
<text x="44.1" y="444.6" font-family='"Liberation Serif", serif' font-size="10.5" fill="#222" stroke="#222" stroke-width="0.15" text-anchor="end">30</text>
<text x="44.1" y="419.2" font-family='"Liberation Serif", serif' font-size="10.5" fill="#222" stroke="#222" stroke-width="0.15" text-anchor="end">40</text>
<text x="44.1" y="393.9" font-family='"Liberation Serif", serif' font-size="10.5" fill="#222" stroke="#222" stroke-width="0.15" text-anchor="end">50</text>
<text x="44.1" y="368.6" font-family='"Liberation Serif", serif' font-size="10.5" fill="#222" stroke="#222" stroke-width="0.15" text-anchor="end">60</text>
<text x="44.1" y="343.2" font-family='"Liberation Serif", serif' font-size="10.5" fill="#222" stroke="#222" stroke-width="0.15" text-anchor="end">70</text>
<text x="44.1" y="317.9" font-family='"Liberation Serif", serif' font-size="10.5" fill="#222" stroke="#222" stroke-width="0.15" text-anchor="end">80</text>
<text x="44.1" y="292.5" font-family='"Liberation Serif", serif' font-size="10.5" fill="#222" stroke="#222" stroke-width="0.15" text-anchor="end">90</text>
<text transform="translate(23.1,356.7) rotate(-90)" font-family='"Liberation Serif", serif' font-size="15.5" fill="#111" stroke="#111" stroke-width="0.2" text-anchor="middle">ICA Flow Velocity (cm/s)</text>
<text x="158.2" y="486" font-family='"Liberation Serif", serif' font-size="15" fill="#111" stroke="#111" stroke-width="0.2" text-anchor="middle">Time (s)</text>
<polyline points="69.7,435.2 72.7,410.0 75.8,382.1 81.2,379.1 83.0,370.6 85.6,358.9 88.9,353.3 93.3,352.0 101.1,341.1 108.9,355.6 112.2,353.3 116.4,358.5 120.3,373.0 123.3,377.8 126.0,382.0 131.2,391.0 135.6,395.6 140.3,397.4 146.7,397.8 153.3,398.9 170.0,406.2 238.0,435.2" fill="none" stroke="#ff0000" stroke-width="2" stroke-dasharray="6,4"/>
<path d="M69.7,419.4 C69.9,418.6 71.8,412.1 72.1,408.5 C72.4,404.9 73.9,375.4 74.2,370.0 C74.5,364.6 76.2,339.5 76.5,335.0 C76.8,330.5 78.4,309.6 78.7,309.2 C79.0,308.8 80.7,326.6 81.0,330.0 C81.3,333.4 83.1,353.8 83.4,355.9 C83.7,358.0 84.9,359.7 85.2,358.7 C85.5,357.7 87.2,344.3 87.5,342.0 C87.8,339.7 89.5,328.9 89.8,327.6 C90.1,326.3 91.5,323.7 91.9,323.8 C92.3,323.9 94.3,327.5 94.7,328.3 C95.1,329.1 97.4,334.7 97.8,335.1 C98.2,335.5 99.3,334.2 99.7,333.2 C100.1,332.2 102.5,321.9 102.9,321.2 C103.3,320.5 104.8,321.6 105.3,324.0 C105.8,326.4 109.0,352.5 109.6,353.7 C110.2,354.9 113.3,342.4 113.8,340.3 C114.3,338.2 115.8,324.5 116.2,324.8 C116.6,325.1 118.5,341.1 119.0,345.0 C119.5,348.9 122.3,375.1 122.7,377.4 C123.1,379.7 124.0,377.8 124.5,377.0 C125.0,376.2 128.6,366.3 129.4,367.1 C130.2,367.9 135.0,386.7 136.0,387.7 C137.0,388.7 141.8,380.5 142.7,380.5 C143.6,380.5 148.0,387.6 148.8,387.7 C149.6,387.8 153.2,381.3 154.2,381.7 C155.2,382.1 161.1,392.0 162.1,392.6 C163.1,393.2 167.2,389.7 167.9,389.7 C168.6,389.7 170.9,391.6 171.5,392.1 C172.1,392.6 174.9,395.9 175.5,396.2 C176.1,396.5 179.3,396.2 180.2,396.5 C181.1,396.8 186.5,400.1 187.4,400.5 C188.3,400.9 191.9,401.6 192.9,402.0 C193.9,402.4 200.3,406.2 201.4,406.6 C202.5,407.0 206.3,407.6 207.4,408.0 C208.5,408.4 214.6,411.2 215.9,411.7 C217.2,412.2 223.4,414.7 225.0,415.3 C226.6,415.9 236.7,419.4 237.6,419.7" fill="none" stroke="#0000ff" stroke-width="1.85" stroke-linejoin="round"/>
<rect x="143" y="285.3" width="109" height="31.2" fill="#fff" stroke="#777" stroke-width="1"/>
<line x1="144.2" y1="293.7" x2="172.1" y2="293.7" stroke="#ff0000" stroke-width="2" stroke-dasharray="6,4"/>
<line x1="144.2" y1="308.4" x2="172.1" y2="308.4" stroke="#0000ff" stroke-width="2"/>
<text x="174.9" y="297.6" font-family='"Liberation Serif", serif' font-size="11.6" fill="#111" stroke="#111" stroke-width="0.35">with stenosis</text>
<text x="174.9" y="312.3" font-family='"Liberation Serif", serif' font-size="11.6" fill="#111" stroke="#111" stroke-width="0.35">remove stenosis</text>
<rect x="322.2" y="276.5" width="220.7" height="177.39999999999998" fill="none" stroke="#444" stroke-width="1.4"/>
<line x1="343.9" y1="453.9" x2="343.9" y2="450.7" stroke="#444" stroke-width="1.2"/>
<line x1="343.9" y1="276.5" x2="343.9" y2="279.7" stroke="#444" stroke-width="1.2"/>
<line x1="366.0" y1="453.9" x2="366.0" y2="451.9" stroke="#444" stroke-width="1.2"/>
<line x1="366.0" y1="276.5" x2="366.0" y2="278.5" stroke="#444" stroke-width="1.2"/>
<line x1="388.2" y1="453.9" x2="388.2" y2="450.7" stroke="#444" stroke-width="1.2"/>
<line x1="388.2" y1="276.5" x2="388.2" y2="279.7" stroke="#444" stroke-width="1.2"/>
<line x1="410.3" y1="453.9" x2="410.3" y2="451.9" stroke="#444" stroke-width="1.2"/>
<line x1="410.3" y1="276.5" x2="410.3" y2="278.5" stroke="#444" stroke-width="1.2"/>
<line x1="432.5" y1="453.9" x2="432.5" y2="450.7" stroke="#444" stroke-width="1.2"/>
<line x1="432.5" y1="276.5" x2="432.5" y2="279.7" stroke="#444" stroke-width="1.2"/>
<line x1="454.6" y1="453.9" x2="454.6" y2="451.9" stroke="#444" stroke-width="1.2"/>
<line x1="454.6" y1="276.5" x2="454.6" y2="278.5" stroke="#444" stroke-width="1.2"/>
<line x1="476.8" y1="453.9" x2="476.8" y2="450.7" stroke="#444" stroke-width="1.2"/>
<line x1="476.8" y1="276.5" x2="476.8" y2="279.7" stroke="#444" stroke-width="1.2"/>
<line x1="498.9" y1="453.9" x2="498.9" y2="451.9" stroke="#444" stroke-width="1.2"/>
<line x1="498.9" y1="276.5" x2="498.9" y2="278.5" stroke="#444" stroke-width="1.2"/>
<line x1="521.1" y1="453.9" x2="521.1" y2="450.7" stroke="#444" stroke-width="1.2"/>
<line x1="521.1" y1="276.5" x2="521.1" y2="279.7" stroke="#444" stroke-width="1.2"/>
<line x1="322.2" y1="439.0" x2="325.4" y2="439.0" stroke="#444" stroke-width="1.2"/>
<line x1="542.9" y1="439.0" x2="539.6999999999999" y2="439.0" stroke="#444" stroke-width="1.2"/>
<line x1="322.2" y1="424.2" x2="324.2" y2="424.2" stroke="#444" stroke-width="1.2"/>
<line x1="542.9" y1="424.2" x2="540.9" y2="424.2" stroke="#444" stroke-width="1.2"/>
<line x1="322.2" y1="409.4" x2="325.4" y2="409.4" stroke="#444" stroke-width="1.2"/>
<line x1="542.9" y1="409.4" x2="539.6999999999999" y2="409.4" stroke="#444" stroke-width="1.2"/>
<line x1="322.2" y1="394.5" x2="324.2" y2="394.5" stroke="#444" stroke-width="1.2"/>
<line x1="542.9" y1="394.5" x2="540.9" y2="394.5" stroke="#444" stroke-width="1.2"/>
<line x1="322.2" y1="379.7" x2="325.4" y2="379.7" stroke="#444" stroke-width="1.2"/>
<line x1="542.9" y1="379.7" x2="539.6999999999999" y2="379.7" stroke="#444" stroke-width="1.2"/>
<line x1="322.2" y1="364.9" x2="324.2" y2="364.9" stroke="#444" stroke-width="1.2"/>
<line x1="542.9" y1="364.9" x2="540.9" y2="364.9" stroke="#444" stroke-width="1.2"/>
<line x1="322.2" y1="350.1" x2="325.4" y2="350.1" stroke="#444" stroke-width="1.2"/>
<line x1="542.9" y1="350.1" x2="539.6999999999999" y2="350.1" stroke="#444" stroke-width="1.2"/>
<line x1="322.2" y1="335.3" x2="324.2" y2="335.3" stroke="#444" stroke-width="1.2"/>
<line x1="542.9" y1="335.3" x2="540.9" y2="335.3" stroke="#444" stroke-width="1.2"/>
<line x1="322.2" y1="320.4" x2="325.4" y2="320.4" stroke="#444" stroke-width="1.2"/>
<line x1="542.9" y1="320.4" x2="539.6999999999999" y2="320.4" stroke="#444" stroke-width="1.2"/>
<line x1="322.2" y1="305.6" x2="324.2" y2="305.6" stroke="#444" stroke-width="1.2"/>
<line x1="542.9" y1="305.6" x2="540.9" y2="305.6" stroke="#444" stroke-width="1.2"/>
<line x1="322.2" y1="290.8" x2="325.4" y2="290.8" stroke="#444" stroke-width="1.2"/>
<line x1="542.9" y1="290.8" x2="539.6999999999999" y2="290.8" stroke="#444" stroke-width="1.2"/>
<text x="343.9" y="466.0" font-family='"Liberation Serif", serif' font-size="10" fill="#222" stroke="#222" stroke-width="0.15" text-anchor="middle">0</text>
<text x="388.2" y="466.0" font-family='"Liberation Serif", serif' font-size="10" fill="#222" stroke="#222" stroke-width="0.15" text-anchor="middle">5</text>
<text x="432.5" y="466.0" font-family='"Liberation Serif", serif' font-size="10" fill="#222" stroke="#222" stroke-width="0.15" text-anchor="middle">10</text>
<text x="476.8" y="466.0" font-family='"Liberation Serif", serif' font-size="10" fill="#222" stroke="#222" stroke-width="0.15" text-anchor="middle">15</text>
<text x="521.1" y="466.0" font-family='"Liberation Serif", serif' font-size="10" fill="#222" stroke="#222" stroke-width="0.15" text-anchor="middle">20</text>
<text x="317.5" y="442.4" font-family='"Liberation Serif", serif' font-size="10" fill="#222" stroke="#222" stroke-width="0.15" text-anchor="end">0.0</text>
<text x="317.5" y="412.8" font-family='"Liberation Serif", serif' font-size="10" fill="#222" stroke="#222" stroke-width="0.15" text-anchor="end">0.2</text>
<text x="317.5" y="383.1" font-family='"Liberation Serif", serif' font-size="10" fill="#222" stroke="#222" stroke-width="0.15" text-anchor="end">0.4</text>
<text x="317.5" y="353.5" font-family='"Liberation Serif", serif' font-size="10" fill="#222" stroke="#222" stroke-width="0.15" text-anchor="end">0.6</text>
<text x="317.5" y="323.8" font-family='"Liberation Serif", serif' font-size="10" fill="#222" stroke="#222" stroke-width="0.15" text-anchor="end">0.8</text>
<text x="317.5" y="294.2" font-family='"Liberation Serif", serif' font-size="10" fill="#222" stroke="#222" stroke-width="0.15" text-anchor="end">1.0</text>
<text transform="translate(300.1,362.9) rotate(-90)" font-family='"Liberation Serif", serif' font-size="15.7" fill="#111" stroke="#111" stroke-width="0.2" text-anchor="middle">Normalized Amplitude</text>
<text x="432" y="486.5" font-family='"Liberation Serif", serif' font-size="15" fill="#111" stroke="#111" stroke-width="0.2" text-anchor="middle">Frequency Order</text>
<polyline points="352.8,290.8 361.6,351.6 370.5,399.0 379.3,430.4 388.2,425.1 397.1,430.8 405.9,430.8 414.8,432.0 423.6,432.0 432.5,433.7 441.4,436.3 450.2,431.9 459.1,429.2 467.9,431.9 476.8,435.9 485.7,435.3 494.5,433.1 503.4,432.8 512.2,435.3 521.1,436.8" fill="none" stroke="#ff1010" stroke-width="1.6"/>
<rect x="350.8" y="288.8" width="4" height="4" fill="#ff1010"/>
<rect x="359.6" y="349.6" width="4" height="4" fill="#ff1010"/>
<rect x="368.5" y="397.0" width="4" height="4" fill="#ff1010"/>
<rect x="377.3" y="428.4" width="4" height="4" fill="#ff1010"/>
<rect x="386.2" y="423.1" width="4" height="4" fill="#ff1010"/>
<rect x="395.1" y="428.8" width="4" height="4" fill="#ff1010"/>
<rect x="403.9" y="428.8" width="4" height="4" fill="#ff1010"/>
<rect x="412.8" y="430.0" width="4" height="4" fill="#ff1010"/>
<rect x="421.6" y="430.0" width="4" height="4" fill="#ff1010"/>
<rect x="430.5" y="431.7" width="4" height="4" fill="#ff1010"/>
<rect x="439.4" y="434.3" width="4" height="4" fill="#ff1010"/>
<rect x="448.2" y="429.9" width="4" height="4" fill="#ff1010"/>
<rect x="457.1" y="427.2" width="4" height="4" fill="#ff1010"/>
<rect x="465.9" y="429.9" width="4" height="4" fill="#ff1010"/>
<rect x="474.8" y="433.9" width="4" height="4" fill="#ff1010"/>
<rect x="483.7" y="433.3" width="4" height="4" fill="#ff1010"/>
<rect x="492.5" y="431.1" width="4" height="4" fill="#ff1010"/>
<rect x="501.4" y="430.8" width="4" height="4" fill="#ff1010"/>
<rect x="510.2" y="433.3" width="4" height="4" fill="#ff1010"/>
<rect x="519.1" y="434.8" width="4" height="4" fill="#ff1010"/>
<polyline points="352.8,290.8 361.6,351.6 370.5,403.7 379.3,419.3 388.2,412.9 397.1,420.8 405.9,421.8 414.8,418.5 423.6,413.5 432.5,421.2 441.4,428.6 450.2,418.3 459.1,405.5 467.9,417.8 476.8,433.1 485.7,433.7 494.5,431.9 503.4,431.9 512.2,435.9 521.1,436.8" fill="none" stroke="#0a1aff" stroke-width="1.6"/>
<circle cx="352.8" cy="290.8" r="2.3" fill="#0a1aff"/>
<circle cx="361.6" cy="351.6" r="2.3" fill="#0a1aff"/>
<circle cx="370.5" cy="403.7" r="2.3" fill="#0a1aff"/>
<circle cx="379.3" cy="419.3" r="2.3" fill="#0a1aff"/>
<circle cx="388.2" cy="412.9" r="2.3" fill="#0a1aff"/>
<circle cx="397.1" cy="420.8" r="2.3" fill="#0a1aff"/>
<circle cx="405.9" cy="421.8" r="2.3" fill="#0a1aff"/>
<circle cx="414.8" cy="418.5" r="2.3" fill="#0a1aff"/>
<circle cx="423.6" cy="413.5" r="2.3" fill="#0a1aff"/>
<circle cx="432.5" cy="421.2" r="2.3" fill="#0a1aff"/>
<circle cx="441.4" cy="428.6" r="2.3" fill="#0a1aff"/>
<circle cx="450.2" cy="418.3" r="2.3" fill="#0a1aff"/>
<circle cx="459.1" cy="405.5" r="2.3" fill="#0a1aff"/>
<circle cx="467.9" cy="417.8" r="2.3" fill="#0a1aff"/>
<circle cx="476.8" cy="433.1" r="2.3" fill="#0a1aff"/>
<circle cx="485.7" cy="433.7" r="2.3" fill="#0a1aff"/>
<circle cx="494.5" cy="431.9" r="2.3" fill="#0a1aff"/>
<circle cx="503.4" cy="431.9" r="2.3" fill="#0a1aff"/>
<circle cx="512.2" cy="435.9" r="2.3" fill="#0a1aff"/>
<circle cx="521.1" cy="436.8" r="2.3" fill="#0a1aff"/>
<polyline points="352.8,290.8 361.6,368.3 370.5,394.5 379.3,432.0 388.2,433.7 397.1,426.6 405.9,428.8 414.8,414.3 423.6,429.8 432.5,424.5 441.4,430.8 450.2,436.8 459.1,434.3 467.9,430.8 476.8,434.3 485.7,436.3 494.5,432.3 503.4,433.1 512.2,435.9 521.1,436.3" fill="none" stroke="#000" stroke-width="1.6"/>
<path d="M352.8,288.1 L355.3,290.8 L352.8,293.5 L350.3,290.8Z" fill="#000"/>
<path d="M361.6,365.6 L364.1,368.3 L361.6,371.0 L359.1,368.3Z" fill="#000"/>
<path d="M370.5,391.8 L373.0,394.5 L370.5,397.2 L368.0,394.5Z" fill="#000"/>
<path d="M379.3,429.3 L381.8,432.0 L379.3,434.7 L376.8,432.0Z" fill="#000"/>
<path d="M388.2,431.0 L390.7,433.7 L388.2,436.4 L385.7,433.7Z" fill="#000"/>
<path d="M397.1,423.9 L399.6,426.6 L397.1,429.3 L394.6,426.6Z" fill="#000"/>
<path d="M405.9,426.1 L408.4,428.8 L405.9,431.5 L403.4,428.8Z" fill="#000"/>
<path d="M414.8,411.6 L417.3,414.3 L414.8,417.0 L412.3,414.3Z" fill="#000"/>
<path d="M423.6,427.1 L426.1,429.8 L423.6,432.5 L421.1,429.8Z" fill="#000"/>
<path d="M432.5,421.8 L435.0,424.5 L432.5,427.2 L430.0,424.5Z" fill="#000"/>
<path d="M441.4,428.1 L443.9,430.8 L441.4,433.5 L438.9,430.8Z" fill="#000"/>
<path d="M450.2,434.1 L452.7,436.8 L450.2,439.5 L447.7,436.8Z" fill="#000"/>
<path d="M459.1,431.6 L461.6,434.3 L459.1,437.0 L456.6,434.3Z" fill="#000"/>
<path d="M467.9,428.1 L470.4,430.8 L467.9,433.5 L465.4,430.8Z" fill="#000"/>
<path d="M476.8,431.6 L479.3,434.3 L476.8,437.0 L474.3,434.3Z" fill="#000"/>
<path d="M485.7,433.6 L488.2,436.3 L485.7,439.0 L483.2,436.3Z" fill="#000"/>
<path d="M494.5,429.6 L497.0,432.3 L494.5,435.0 L492.0,432.3Z" fill="#000"/>
<path d="M503.4,430.4 L505.9,433.1 L503.4,435.8 L500.9,433.1Z" fill="#000"/>
<path d="M512.2,433.2 L514.7,435.9 L512.2,438.6 L509.7,435.9Z" fill="#000"/>
<path d="M521.1,433.6 L523.6,436.3 L521.1,439.0 L518.6,436.3Z" fill="#000"/>
<text x="423.6" y="394.9" font-family='"Liberation Sans", sans-serif' font-size="11.8" fill="#1a1aff">FHR=0.280</text>
<text x="480.9" y="425.3" font-family='"Liberation Sans", sans-serif' font-size="11.8" fill="#111">FHR=0.373.</text>
<text x="350.2" y="445.7" font-family='"Liberation Sans", sans-serif' font-size="11.8" fill="#ff1a1a">FHR=0.390</text>
<rect x="412.2" y="290.7" width="109.2" height="45.3" fill="#fff" stroke="#777" stroke-width="1"/>
<line x1="414" y1="299.1" x2="440.7" y2="299.1" stroke="#000" stroke-width="1.6"/>
<path d="M427.3,296.90000000000003 L429.3,299.1 L427.3,301.3 L425.3,299.1Z" fill="#000"/>
<line x1="414" y1="313.1" x2="440.7" y2="313.1" stroke="#ff1010" stroke-width="1.6"/>
<rect x="425.5" y="311.3" width="3.6" height="3.6" fill="#ff1010"/>
<line x1="414" y1="328.3" x2="440.7" y2="328.3" stroke="#0a1aff" stroke-width="1.6"/>
<circle cx="427.3" cy="328.3" r="2.1" fill="#0a1aff"/>
<text x="443.8" y="303.6" font-family='"Liberation Serif", serif' font-size="11.6" fill="#111" stroke="#111" stroke-width="0.35">measured</text>
<text x="443.8" y="317.6" font-family='"Liberation Serif", serif' font-size="11.6" fill="#111" stroke="#111" stroke-width="0.35">simulated</text>
<text x="443.8" y="332.8" font-family='"Liberation Serif", serif' font-size="11.6" fill="#111" stroke="#111" stroke-width="0.35">remove stenosis</text>
</svg>
</body></html>
